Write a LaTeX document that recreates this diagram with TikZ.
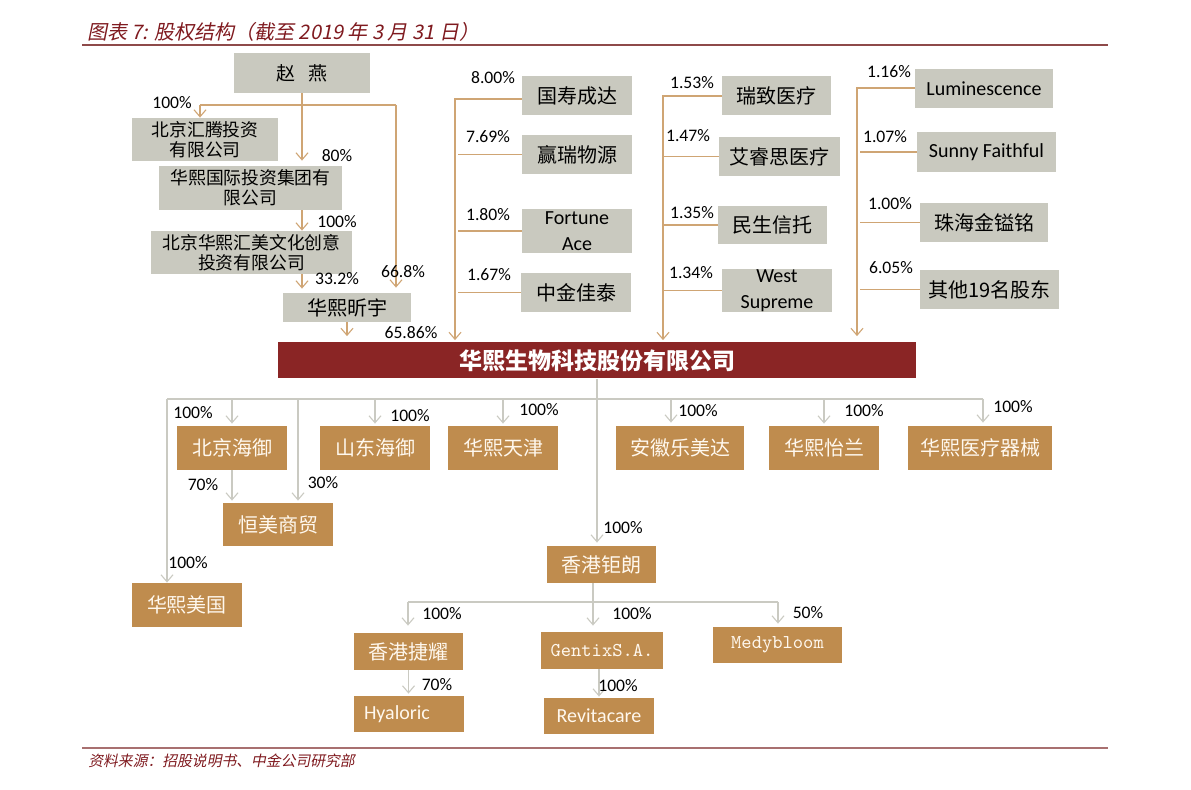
\documentclass[tikz,border=0pt]{standalone}
\usepackage{fontspec}
\setmainfont{Carlito}
\newfontfamily\cjk{Noto Sans CJK SC}
\newfontfamily\cjkit{Noto Sans CJK SC}[FakeSlant=0.2]
\usetikzlibrary{arrows.meta}

\begin{document}
\begin{tikzpicture}[x=0.5pt, y=-0.5pt,
    wh/.style 2 args={minimum width=#1*0.5pt, minimum height=#2*0.5pt},
    box/.style={inner sep=0pt, align=center, font=\cjk\fontsize{10}{10}\selectfont},
    grayBox/.style={box, fill=boxGray, text=black},
    tanBox/.style={box, fill=boxTan, text=boxText},
    twoLine/.style={font=\cjk\fontsize{8.9}{10}\selectfont},
    latinName/.style={font=\fontsize{10}{12}\selectfont},
    monoName/.style={font=\ttfamily\fontsize{9.8}{11}\selectfont},
    pct/.style={inner sep=0pt, font=\fontsize{8.8}{10}\selectfont},
    goldLine/.style={draw=lineGold, line width=0.55pt},
    goldArrow/.style={goldLine, -{Straight Barb[length=3.5pt,width=6pt]}},
    greyLine/.style={draw=lineGrey, line width=0.55pt},
    greyArrow/.style={greyLine, -{Straight Barb[length=3.5pt,width=6pt]}}
]

    \definecolor{boxGray}{HTML}{C9C9BF}
    \definecolor{boxTan}{HTML}{BF8C4E}
    \definecolor{boxText}{HTML}{FFF8EE}
    \definecolor{barRed}{HTML}{8A2525}
    \definecolor{lineGold}{HTML}{CFA574}
    \definecolor{lineGrey}{HTML}{CACAC2}
    \definecolor{titleRed}{HTML}{7F1A1F}
    \definecolor{headRule}{HTML}{8E4A4A}
    \definecolor{footRule}{HTML}{A87070}

    % Fix the page size
    \useasboundingbox (0,0) rectangle (1191,790);

    % Title and source
    \node[anchor=west, inner sep=0pt, text=titleRed, font=\cjkit\fontsize{10}{12}\selectfont] (title) at (87,32) {图表 7: 股权结构（截至 2019 年 3 月 31 日）};
    \draw[headRule, line width=0.8pt] (82,45) -- (1108,45);
    \draw[footRule, line width=0.8pt] (82,748) -- (1108,748);
    \node[anchor=west, inner sep=0pt, text=titleRed, font=\cjkit\fontsize{7.4}{9}\selectfont] (source) at (88,761) {资料来源：招股说明书、中金公司研究部};

    % Controlling shareholder chain
    \node[grayBox, wh={136}{40}, font=\cjk\fontsize{9.5}{10}\selectfont] (zhaoYan) at (302,73) {赵\hspace{7pt}燕};
    \node[grayBox, twoLine, wh={146}{43}] (huiTeng) at (205,139.5) {北京汇腾投资\\有限公司};
    \node[grayBox, twoLine, wh={183}{44}] (hxIntl) at (250.5,188) {华熙国际投资集团有\\限公司};
    \node[grayBox, twoLine, wh={201}{43}] (hxHuimei) at (251.5,252.5) {北京华熙汇美文化创意\\投资有限公司};
    \node[grayBox, wh={128}{29}] (hxXinyu) at (347,307.5) {华熙昕宇};

    % The listed company
    \node[inner sep=0pt, fill=barRed, text=white, wh={638}{36}, font=\cjk\bfseries\fontsize{11.5}{12}\selectfont] (hxBio) at (597,360.5) {华熙生物科技股份有限公司};

    % Other shareholders, first column
    \node[grayBox, wh={110}{39}] (guoShou) at (577,95.5) {国寿成达};
    \node[grayBox, wh={110}{39}] (yingRui) at (577,154.5) {赢瑞物源};
    \node[grayBox, latinName, wh={110}{44}] (fortuneAce) at (577,231) {Fortune\\[1pt]Ace};
    \node[grayBox, wh={110}{39}] (zhongJin) at (576,292.5) {中金佳泰};

    % Other shareholders, second column
    \node[grayBox, wh={109}{39}] (ruiZhi) at (776.5,95.5) {瑞致医疗};
    \node[grayBox, wh={121}{39}] (aiRuisi) at (779.5,156.5) {艾睿思医疗};
    \node[grayBox, wh={109}{38}] (minSheng) at (772.5,225) {民生信托};
    \node[grayBox, latinName, wh={110}{43}] (westSup) at (777,290.5) {West\\[1pt]Supreme};

    % Other shareholders, third column
    \node[grayBox, latinName, wh={138}{39}] (lumin) at (984,88.5) {Luminescence};
    \node[grayBox, latinName, wh={139}{40}] (sunny) at (986.5,152) {Sunny Faithful};
    \node[grayBox, wh={128}{39}] (zhuHai) at (984,222.5) {珠海金镒铭};
    \node[grayBox, wh={139}{39}] (others) at (989.5,289.5) {其他19名股东};

    % Subsidiaries
    \node[tanBox, wh={110}{44}] (bjHaiyu) at (232,448) {北京海御};
    \node[tanBox, wh={110}{43}] (hengMei) at (278,524.5) {恒美商贸};
    \node[tanBox, wh={110}{44}] (hxUSA) at (187,605) {华熙美国};
    \node[tanBox, wh={110}{44}] (sdHaiyu) at (375,448) {山东海御};
    \node[tanBox, wh={110}{44}] (hxTianjin) at (503,448) {华熙天津};
    \node[tanBox, wh={128}{44}] (ahLemeida) at (680,448) {安徽乐美达};
    \node[tanBox, wh={110}{44}] (hxYilan) at (824,448) {华熙怡兰};
    \node[tanBox, wh={144}{44}] (hxYiliao) at (980,448) {华熙医疗器械};
    \node[tanBox, wh={109}{37}] (hkJulang) at (601.5,564.5) {香港钜朗};
    \node[tanBox, wh={109}{37}] (hkJieyao) at (408.5,651.5) {香港捷耀};
    \node[tanBox, monoName, wh={122}{37}] (gentix) at (602,650.5) {GentixS.A.};
    \node[tanBox, monoName, wh={129}{36}] (medy) at (777.5,645) {Medybloom};
    \node[tanBox, latinName, wh={110}{36}, text width=45pt, align=left] (hyaloric) at (409,714) {Hyaloric};
    \node[tanBox, latinName, wh={110}{36}] (revita) at (599,716) {Revitacare};

    % Draw the controlling chain
    \coordinate (zyLeft) at (200,105);
    \coordinate (zyRight) at (396,105);
    \draw[goldArrow, shorten >=2.5pt] (zhaoYan.south) -- (zhaoYan.south |- hxIntl.north);
    \draw[goldLine] (zyLeft) -- (zyRight);
    \draw[goldArrow] (zyLeft) -- (zyLeft |- huiTeng.north);
    \draw[goldArrow, shorten >=2.5pt] (zyRight) -- (zyRight |- hxXinyu.north);
    \draw[goldArrow] (zhaoYan.south |- hxIntl.south) -- (zhaoYan.south |- hxHuimei.north);
    \draw[goldArrow, shorten >=2pt] (zhaoYan.south |- hxHuimei.south) -- (zhaoYan.south |- hxXinyu.north);
    \draw[goldArrow, shorten >=3pt] (hxXinyu.south) -- (hxXinyu.south |- hxBio.north);

    \node[pct] (pZyHt) at (172,103) {100\%};
    \node[pct] (pZyIntl) at (337,156) {80\%};
    \node[pct] (pIntlHm) at (337,222) {100\%};
    \node[pct] (pHmXy) at (337,279) {33.2\%};
    \node[pct] (pZyXy) at (403,272) {66.8\%};
    \node[pct] (pXyBio) at (411,333) {65.86\%};

    % Draw the shareholder columns
    \coordinate (colA) at (455,99);
    \coordinate (colB) at (663,96);
    \coordinate (colC) at (857,88);
    \draw[goldArrow, shorten >=1pt] (guoShou.west |- colA) -- (colA) -- (colA |- hxBio.north);
    \draw[goldArrow, shorten >=1pt] (ruiZhi.west |- colB) -- (colB) -- (colB |- hxBio.north);
    \draw[goldArrow, shorten >=3pt] (lumin.west |- colC) -- (colC) -- (colC |- hxBio.north);
    \foreach \holder in {yingRui, fortuneAce, zhongJin}
        \draw[goldLine, shorten >=1.5pt] (\holder.west) -- (\holder.west -| colA);
    \foreach \holder in {aiRuisi, minSheng, westSup}
        \draw[goldLine] (\holder.west) -- (\holder.west -| colB);
    \foreach \holder in {sunny, zhuHai, others}
        \draw[goldLine, shorten >=1.5pt] (\holder.west) -- (\holder.west -| colC);

    \node[pct] (pGs) at (493,78) {8.00\%};
    \node[pct] (pYr) at (488,137) {7.69\%};
    \node[pct] (pFa) at (488,215) {1.80\%};
    \node[pct] (pZj) at (489,275) {1.67\%};
    \node[pct] (pRz) at (692,83) {1.53\%};
    \node[pct] (pAr) at (688,136) {1.47\%};
    \node[pct] (pMs) at (692,213) {1.35\%};
    \node[pct] (pWs) at (691,273) {1.34\%};
    \node[pct] (pLu) at (889,72) {1.16\%};
    \node[pct] (pSf) at (885,137) {1.07\%};
    \node[pct] (pZh) at (890,204) {1.00\%};
    \node[pct] (pOt) at (891,268) {6.05\%};

    % Draw the subsidiary tree
    \coordinate (busLeft) at (167,399);
    \coordinate (busRight) at (983,399);
    \coordinate (hmDrop) at (298,399);
    \coordinate (ahDrop) at (671,399);
    \draw[greyArrow, shorten >=1.5pt] (hxBio.south) -- (hxBio.south |- hkJulang.north);
    \draw[greyLine] (busLeft) -- (busRight);
    \draw[greyArrow] (busLeft) -- (busLeft |- hxUSA.north);
    \draw[greyArrow, shorten >=1pt] (hmDrop) -- (hmDrop |- hengMei.north);
    \draw[greyArrow, shorten >=1.5pt] (ahDrop) -- (ahDrop |- ahLemeida.north);
    \draw[greyArrow, shorten >=1.5pt] (busRight) -- (busRight |- hxYiliao.north);
    \foreach \sub in {bjHaiyu, sdHaiyu, hxTianjin, hxYilan}
        \draw[greyArrow, shorten >=1pt] (\sub.north |- busLeft) -- (\sub.north);
    \draw[greyArrow, shorten >=1pt] (bjHaiyu.south) -- (bjHaiyu.south |- hengMei.north);

    \node[pct] (pBj) at (193,413) {100\%};
    \node[pct] (pUs) at (188,563) {100\%};
    \node[pct] (pBjHm) at (203,485) {70\%};
    \node[pct] (pBioHm) at (323,483) {30\%};
    \node[pct] (pSd) at (410,416) {100\%};
    \node[pct] (pTj) at (539,410) {100\%};
    \node[pct] (pAh) at (698,411) {100\%};
    \node[pct] (pYl) at (864,411) {100\%};
    \node[pct] (pYq) at (1013,407) {100\%};
    \node[pct] (pJl) at (623,528) {100\%};

    % Draw the Hong Kong branch
    \coordinate (hkLeft) at (408,602);
    \coordinate (hkRight) at (778,602);
    \coordinate (hkMid) at (593,602);
    \draw[greyArrow, shorten >=3pt] (hkMid |- hkJulang.south) -- (hkMid |- gentix.north);
    \draw[greyLine] (hkLeft) -- (hkRight);
    \draw[greyArrow, shorten >=3.5pt] (hkLeft) -- (hkLeft |- hkJieyao.north);
    \draw[greyArrow, shorten >=1.5pt] (hkRight) -- (hkRight |- medy.north);
    \draw[greyArrow, shorten >=1pt] (hkJieyao.south) -- (hkJieyao.south |- hyaloric.north);
    \draw[greyArrow, shorten >=0.5pt] (revita.north |- gentix.south) -- (revita.north);

    \node[pct] (pJy) at (442,614) {100\%};
    \node[pct] (pGx) at (632,614) {100\%};
    \node[pct] (pMd) at (808,613) {50\%};
    \node[pct] (pHy) at (437,685) {70\%};
    \node[pct] (pRv) at (618,686) {100\%};

\end{tikzpicture}
\end{document}
